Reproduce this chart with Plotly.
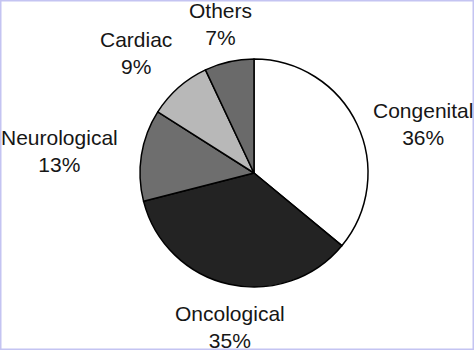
import plotly.graph_objects as go

categories = ["Congenital", "Oncological", "Neurological", "Cardiac", "Others"]
values = [36, 35, 13, 9, 7]
colors = ["#ffffff", "#232323", "#6e6e6e", "#b8b8b8", "#6a6a6a"]
# label block centres (pixels)
label_x = [423, 230, 59, 136, 220]
label_y = [124, 327, 151, 53, 24]

W, H = 474, 350

fig = go.Figure(go.Pie(
    labels=categories,
    values=values,
    sort=False,
    direction="clockwise",
    rotation=0,
    marker=dict(colors=colors, line=dict(color="#000000", width=1.5)),
    textinfo="none",
    hoverinfo="label+percent",
    showlegend=False,
    domain=dict(x=[140 / W, 368 / W], y=[1 - 287 / H, 1 - 59 / H]),
))

annotations = []
for c, v, x, y in zip(categories, values, label_x, label_y):
    annotations.append(dict(
        x=x / W, y=1 - y / H, xref="paper", yref="paper",
        text=f"{c}<br>{v}%", showarrow=False,
        xanchor="center", yanchor="middle", align="center",
        font=dict(family="Liberation Sans, Arial, sans-serif", size=21, color="#161616"),
    ))

fig.update_layout(
    width=W, height=H,
    margin=dict(l=0, r=0, t=0, b=0),
    paper_bgcolor="#ffffff",
    plot_bgcolor="#ffffff",
    annotations=annotations,
    shapes=[dict(type="rect", xref="paper", yref="paper", x0=0, y0=0, x1=1, y1=1,
                 line=dict(color="#c4c4f2", width=3), layer="above")],
)

fig.write_html("out.html")
